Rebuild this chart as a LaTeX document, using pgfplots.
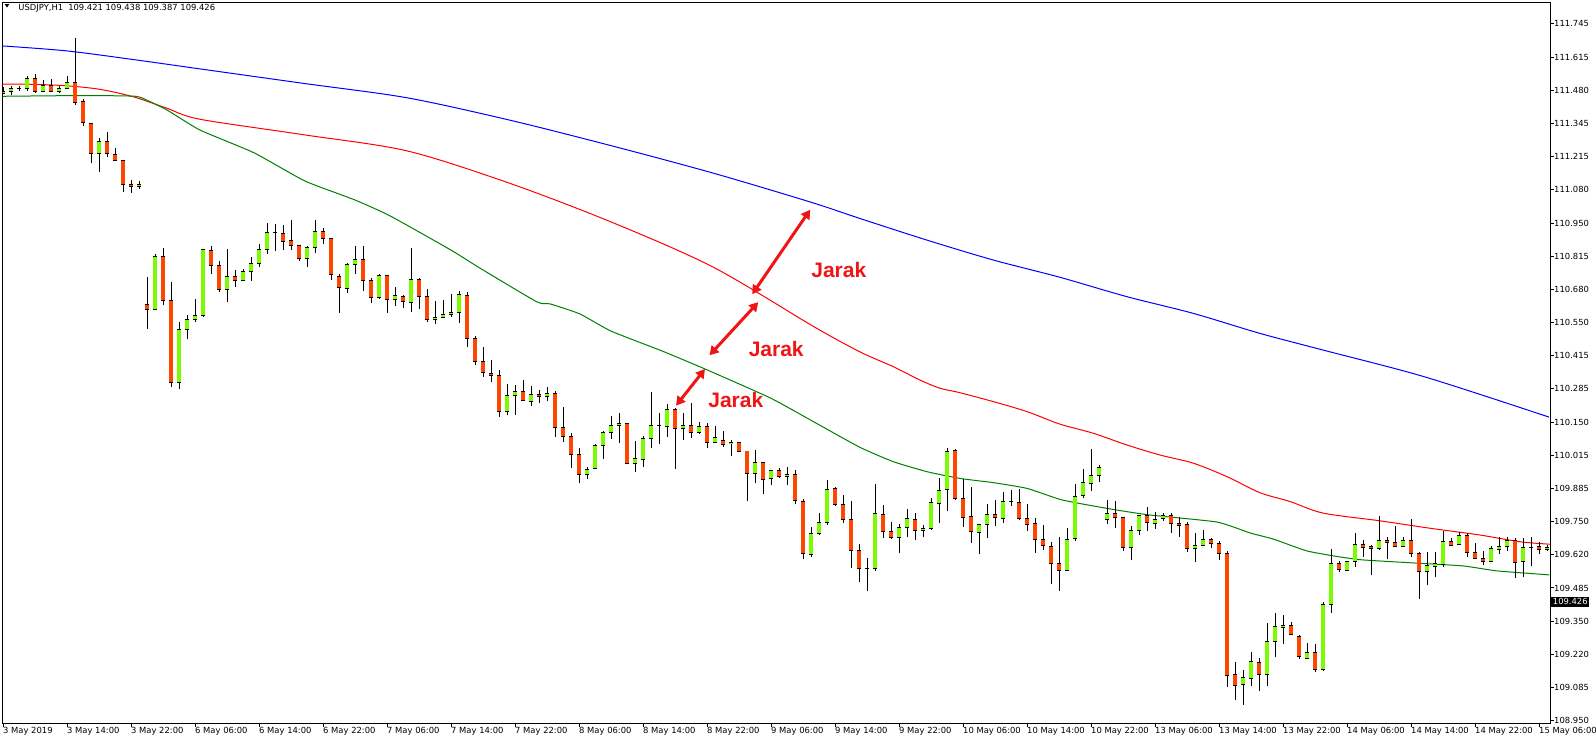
\documentclass[border=0pt]{standalone}
\usepackage{pgfplots}
\pgfplotsset{compat=1.18}
\usepackage{pgfplotstable}
\usepackage{fontspec}
\usetikzlibrary{arrows.meta}
\newfontfamily\dv{DejaVu Sans}
\newfontfamily\lib{Liberation Sans}
\newcommand\tickf{\dv\fontsize{8.4}{10}\selectfont}
\definecolor{upc}{RGB}{124,252,0}
\definecolor{dnc}{RGB}{255,69,0}
\definecolor{jred}{RGB}{240,20,20}
\definecolor{maG}{RGB}{0,128,0}

\pgfplotstableread{
k o h l c
0 111.467 111.493 111.464 111.475
1 111.475 111.496 111.461 111.487
2 111.487 111.496 111.475 111.487
3 111.487 111.536 111.475 111.527
4 111.527 111.543 111.469 111.475
5 111.475 111.520 111.475 111.499
6 111.499 111.523 111.475 111.475
7 111.475 111.496 111.467 111.487
8 111.487 111.536 111.487 111.511
9 111.511 111.687 111.421 111.430
10 111.434 111.445 111.337 111.350
11 111.346 111.346 111.186 111.226
12 111.226 111.286 111.152 111.274
13 111.274 111.310 111.212 111.226
14 111.222 111.246 111.198 111.198
15 111.198 111.198 111.072 111.101
16 111.101 111.118 111.068 111.093
17 111.093 111.114 111.084 111.101
18 110.620 110.732 110.522 110.600
19 110.600 110.822 110.600 110.813
20 110.813 110.845 110.616 110.636
21 110.636 110.712 110.290 110.308
22 110.308 110.548 110.280 110.520
23 110.520 110.576 110.480 110.560
24 110.558 110.640 110.550 110.576
25 110.576 110.841 110.568 110.841
26 110.837 110.854 110.743 110.777
27 110.777 110.794 110.671 110.680
28 110.680 110.841 110.631 110.732
29 110.732 110.758 110.691 110.716
30 110.716 110.762 110.716 110.752
31 110.752 110.810 110.715 110.785
32 110.785 110.862 110.771 110.841
33 110.841 110.946 110.823 110.909
34 110.908 110.942 110.835 110.908
35 110.905 110.938 110.838 110.873
36 110.877 110.958 110.839 110.857
37 110.857 110.857 110.795 110.805
38 110.805 110.853 110.771 110.849
39 110.849 110.958 110.825 110.913
40 110.913 110.925 110.863 110.885
41 110.885 110.885 110.718 110.740
42 110.732 110.742 110.587 110.688
43 110.684 110.786 110.667 110.781
44 110.781 110.854 110.743 110.801
45 110.801 110.854 110.675 110.716
46 110.716 110.726 110.627 110.648
47 110.648 110.742 110.643 110.736
48 110.736 110.736 110.587 110.640
49 110.640 110.690 110.615 110.656
50 110.652 110.656 110.607 110.632
51 110.628 110.845 110.591 110.720
52 110.720 110.728 110.603 110.652
53 110.652 110.680 110.551 110.559
54 110.560 110.632 110.540 110.568
55 110.568 110.636 110.568 110.580
56 110.580 110.660 110.571 110.589
57 110.588 110.672 110.547 110.660
58 110.656 110.668 110.450 110.484
59 110.484 110.492 110.379 110.391
60 110.391 110.448 110.330 110.347
61 110.343 110.399 110.307 110.335
62 110.335 110.355 110.169 110.191
63 110.191 110.299 110.175 110.255
64 110.255 110.295 110.177 110.271
65 110.271 110.315 110.231 110.235
66 110.231 110.291 110.211 110.259
67 110.259 110.275 110.226 110.251
68 110.251 110.287 110.231 110.263
69 110.263 110.271 110.089 110.127
70 110.127 110.208 110.070 110.090
71 110.090 110.103 109.962 110.018
72 110.018 110.046 109.902 109.938
73 109.938 109.966 109.918 109.958
74 109.962 110.060 109.958 110.054
75 110.054 110.111 110.001 110.107
76 110.107 110.171 110.081 110.135
77 110.135 110.183 110.065 110.143
78 110.143 110.143 109.978 109.982
79 109.982 110.074 109.949 110.002
80 109.998 110.092 109.969 110.083
81 110.083 110.268 110.046 110.135
82 110.133 110.183 110.062 110.133
83 110.131 110.220 110.089 110.199
84 110.199 110.204 109.961 110.123
85 110.123 110.183 110.078 110.135
86 110.135 110.224 110.085 110.107
87 110.107 110.147 110.100 110.131
88 110.131 110.143 110.046 110.066
89 110.066 110.131 110.066 110.087
90 110.074 110.111 110.050 110.058
91 110.060 110.078 110.010 110.066
92 110.066 110.066 110.028 110.030
93 110.032 110.032 109.830 109.942
94 109.942 110.038 109.902 109.986
95 109.986 109.986 109.858 109.918
96 109.922 109.954 109.894 109.954
97 109.954 109.962 109.922 109.930
98 109.930 109.966 109.894 109.938
99 109.938 109.954 109.818 109.834
100 109.830 109.838 109.597 109.621
101 109.617 109.729 109.605 109.701
102 109.701 109.782 109.697 109.745
103 109.745 109.914 109.737 109.878
104 109.882 109.886 109.810 109.818
105 109.818 109.854 109.744 109.757
106 109.757 109.830 109.561 109.633
107 109.633 109.657 109.505 109.561
108 109.561 109.601 109.469 109.561
109 109.561 109.898 109.549 109.782
110 109.778 109.814 109.684 109.709
111 109.709 109.749 109.677 109.685
112 109.685 109.741 109.621 109.725
113 109.725 109.798 109.685 109.762
114 109.757 109.782 109.673 109.713
115 109.713 109.737 109.685 109.721
116 109.721 109.842 109.717 109.826
117 109.822 109.922 109.745 109.874
118 109.878 110.044 109.790 110.030
119 110.034 110.042 109.835 109.840
120 109.842 109.918 109.728 109.765
121 109.769 109.886 109.664 109.709
122 109.705 109.741 109.620 109.737
123 109.737 109.818 109.684 109.777
124 109.777 109.834 109.732 109.765
125 109.761 109.866 109.745 109.830
126 109.828 109.875 109.812 109.828
127 109.826 109.878 109.756 109.760
128 109.761 109.818 109.712 109.737
129 109.741 109.765 109.624 109.677
130 109.677 109.737 109.636 109.653
131 109.649 109.665 109.497 109.581
132 109.581 109.689 109.471 109.553
133 109.553 109.725 109.553 109.677
134 109.681 109.898 109.669 109.850
135 109.854 109.958 109.842 109.906
136 109.902 110.042 109.872 109.934
137 109.934 109.975 109.909 109.966
138 109.757 109.834 109.740 109.781
139 109.781 109.830 109.724 109.765
140 109.765 109.769 109.632 109.645
141 109.645 109.733 109.596 109.713
142 109.713 109.777 109.696 109.773
143 109.773 109.806 109.712 109.745
144 109.741 109.786 109.720 109.757
145 109.761 109.782 109.753 109.773
146 109.773 109.782 109.704 109.741
147 109.741 109.769 109.688 109.733
148 109.737 109.749 109.625 109.641
149 109.641 109.705 109.588 109.653
150 109.653 109.717 109.653 109.677
151 109.677 109.685 109.644 109.661
152 109.661 109.669 109.596 109.621
153 109.621 109.629 109.086 109.132
154 109.136 109.184 109.035 109.091
155 109.095 109.152 109.015 109.124
156 109.120 109.224 109.091 109.188
157 109.184 109.200 109.071 109.136
158 109.136 109.344 109.091 109.268
159 109.268 109.384 109.204 109.328
160 109.324 109.376 109.256 109.332
161 109.332 109.344 109.292 109.296
162 109.288 109.292 109.196 109.208
163 109.200 109.260 109.200 109.224
164 109.224 109.256 109.144 109.156
165 109.156 109.427 109.148 109.416
166 109.416 109.637 109.384 109.581
167 109.581 109.590 109.545 109.557
168 109.553 109.589 109.553 109.589
169 109.589 109.705 109.568 109.657
170 109.657 109.675 109.608 109.645
171 109.649 109.653 109.533 109.641
172 109.641 109.771 109.633 109.673
173 109.673 109.685 109.597 109.665
174 109.665 109.731 109.645 109.649
175 109.649 109.685 109.645 109.673
176 109.673 109.759 109.605 109.621
177 109.621 109.628 109.439 109.549
178 109.549 109.625 109.493 109.573
179 109.569 109.625 109.525 109.581
180 109.577 109.713 109.565 109.669
181 109.669 109.681 109.653 109.653
182 109.657 109.709 109.653 109.693
183 109.693 109.705 109.608 109.625
184 109.625 109.661 109.601 109.601
185 109.601 109.629 109.573 109.589
186 109.589 109.649 109.589 109.640
187 109.637 109.685 109.617 109.649
188 109.649 109.685 109.629 109.673
189 109.673 109.681 109.521 109.585
190 109.589 109.681 109.525 109.645
191 109.646 109.685 109.569 109.646
192 109.649 109.668 109.617 109.637
193 109.637 109.653 109.629 109.645
}\candles

\pgfplotsset{
  candlebar/.style={only marks, mark=*, mark size=0pt,
    mark options={draw=none, fill=none, opacity=0},
    forget plot, unbounded coords=discard,
    error bars/.cd, y dir=plus, y explicit, error mark=none,
    error bar style={#1}},
}

\begin{document}
\begin{tikzpicture}
\begin{axis}[
  name=main, at={(0pt,0pt)}, anchor=south west,
  scale only axis, width=1547.5pt, height=720.6pt,
  xmin=-0.0625, xmax=193.375, ymin=108.9396, ymax=111.8305,
  enlargelimits=false, clip mode=individual,
  axis line style={line width=1pt},
  tick align=outside, major tick length=4pt,
  tick style={black, line width=1pt},
  xtick pos=left, ytick pos=right, yticklabel pos=right,
  xtick={0,8,...,192},
  xticklabels={3 May 2019, 3 May 14:00, 3 May 22:00, 6 May 06:00, 6 May 14:00, 6 May 22:00, 7 May 06:00, 7 May 14:00, 7 May 22:00, 8 May 06:00, 8 May 14:00, 8 May 22:00, 9 May 06:00, 9 May 14:00, 9 May 22:00, 10 May 06:00, 10 May 14:00, 10 May 22:00, 13 May 06:00, 13 May 14:00, 13 May 22:00, 14 May 06:00, 14 May 14:00, 14 May 22:00, 15 May 06:00},
  ytick={108.950,109.0831,109.2162,109.3493,109.4824,109.6155,109.7486,109.8817,110.0148,110.1479,110.2810,110.4141,110.5472,110.6803,110.8134,110.9465,111.0796,111.2127,111.3458,111.4789,111.6120,111.7451},
  yticklabels={108.950,109.085,109.220,109.350,109.485,109.620,109.750,109.885,110.015,110.150,110.285,110.415,110.550,110.680,110.815,110.950,111.080,111.215,111.345,111.480,111.615,111.745},
  tick label style={font=\tickf},
  xticklabel style={anchor=north west, inner sep=0pt},
  yticklabel style={anchor=west, inner sep=0pt},
]
% moving averages
\addplot[blue, line width=1pt, smooth, tension=0.5] coordinates {(-0.06,111.657) (8,111.637) (16.6,111.601) (24.6,111.565) (37.75,111.506) (50.5,111.449) (63.25,111.360) (76,111.257) (88.75,111.147) (100.9,111.031) (107.1,110.965) (115.5,110.878) (123.8,110.798) (132.1,110.729) (140.5,110.651) (148.8,110.584) (157.1,110.504) (165,110.437) (177.75,110.329) (193.25,110.168)};
\addplot[red, line width=1pt, smooth, tension=0.5] coordinates {(-0.06,111.504) (3.8,111.503) (8,111.497) (12.1,111.483) (16.3,111.453) (20.5,111.407) (24.6,111.363) (37.75,111.300) (50.5,111.236) (63.25,111.107) (76,110.951) (88.75,110.770) (101.4,110.530) (107.1,110.430) (111.3,110.370) (114.6,110.317) (117.1,110.284) (119.6,110.266) (123.8,110.230) (128,110.190) (132.1,110.140) (136.3,110.103) (140.5,110.056) (144.6,110.016) (148.8,109.983) (153,109.929) (157.1,109.865) (160.9,109.829) (165,109.783) (172.1,109.752) (178.4,109.722) (184.6,109.695) (189.6,109.668) (193.4,109.658)};
\addplot[maG, line width=1pt, smooth, tension=0.3] coordinates {(-0.06,111.455) (10,111.458) (16.6,111.455) (18.4,111.433) (20.5,111.400) (24.6,111.320) (31.4,111.228) (37.75,111.115) (44,111.039) (48.4,110.975) (56,110.838) (59.6,110.766) (66.75,110.630) (68.4,110.622) (72.1,110.582) (76,110.513) (82.4,110.433) (87.75,110.361) (95.9,110.245) (101.4,110.148) (107.1,110.047) (111.3,109.989) (115.5,109.949) (119.6,109.922) (123.8,109.905) (128,109.882) (132.1,109.838) (135,109.819) (139.25,109.795) (143.4,109.775) (151.75,109.747) (155.9,109.703) (158.75,109.679) (163,109.631) (167.1,109.607) (170,109.595) (176.25,109.583) (182.5,109.571) (186.75,109.551) (193.3,109.535)};
% candle wicks
\addplot[candlebar={line width=1pt, draw=black}] table[x=k, y=l, y error plus expr={\thisrow{h}-\thisrow{l}}] {\candles};
% candle body outlines
\addplot[candlebar={line width=4.9pt, draw=black}] table[x=k, y expr={min(\thisrow{o},\thisrow{c})-0.0018}, y error plus expr={abs(\thisrow{c}-\thisrow{o})+0.0036}] {\candles};
% bull bodies
\addplot[candlebar={line width=3.1pt, draw=upc}] table[x=k, y expr={(\thisrow{c}-\thisrow{o}>0.0036) ? (\thisrow{o}+0.0018) : nan}, y error plus expr={\thisrow{c}-\thisrow{o}-0.0036}] {\candles};
% bear bodies
\addplot[candlebar={line width=3.1pt, draw=dnc}] table[x=k, y expr={(\thisrow{o}-\thisrow{c}>0.0036) ? (\thisrow{c}+0.0018) : nan}, y error plus expr={\thisrow{o}-\thisrow{c}-0.0036}] {\candles};
% annotations
\draw[jred, line width=3pt, {Triangle[length=9pt,width=10pt]}-{Triangle[length=9pt,width=10pt]}] (axis cs:93.65,110.661) -- (axis cs:100.9,111.000);
\draw[jred, line width=3pt, {Triangle[length=9pt,width=10pt]}-{Triangle[length=9pt,width=10pt]}] (axis cs:88.31,110.416) -- (axis cs:94.41,110.629);
\draw[jred, line width=3pt, {Triangle[length=9pt,width=10pt]}-{Triangle[length=9pt,width=10pt]}] (axis cs:84.125,110.214) -- (axis cs:87.75,110.361);
\node[jred, font=\lib\bfseries\fontsize{21}{24}\selectfont, inner sep=0pt] at (axis cs:104.47,110.757) {Jarak};
\node[jred, font=\lib\bfseries\fontsize{21}{24}\selectfont, inner sep=0pt] at (axis cs:96.65,110.443) {Jarak};
\node[jred, font=\lib\bfseries\fontsize{21}{24}\selectfont, inner sep=0pt] at (axis cs:91.6,110.237) {Jarak};
\fill[black] (axis cs:0.21,111.825) -- (axis cs:0.79,111.825) -- (axis cs:0.5,111.811) -- cycle;
\node[anchor=base west, inner sep=0pt, font=\tickf] at (axis cs:1.91,111.798) {USDJPY,H1\hspace{5pt}109.421 109.438 109.387 109.426};
\node[anchor=west, fill=black, text=white, font=\tickf, inner xsep=1.7pt, inner ysep=1pt, text height=6.2pt, text depth=1pt, xshift=1pt] at (axis cs:193.375,109.426) {109.426};
\end{axis}
\pgfresetboundingbox
\path[use as bounding box] (-2.5pt,-20.7pt) rectangle (1593.5pt,723.3pt);
\end{tikzpicture}
\end{document}
